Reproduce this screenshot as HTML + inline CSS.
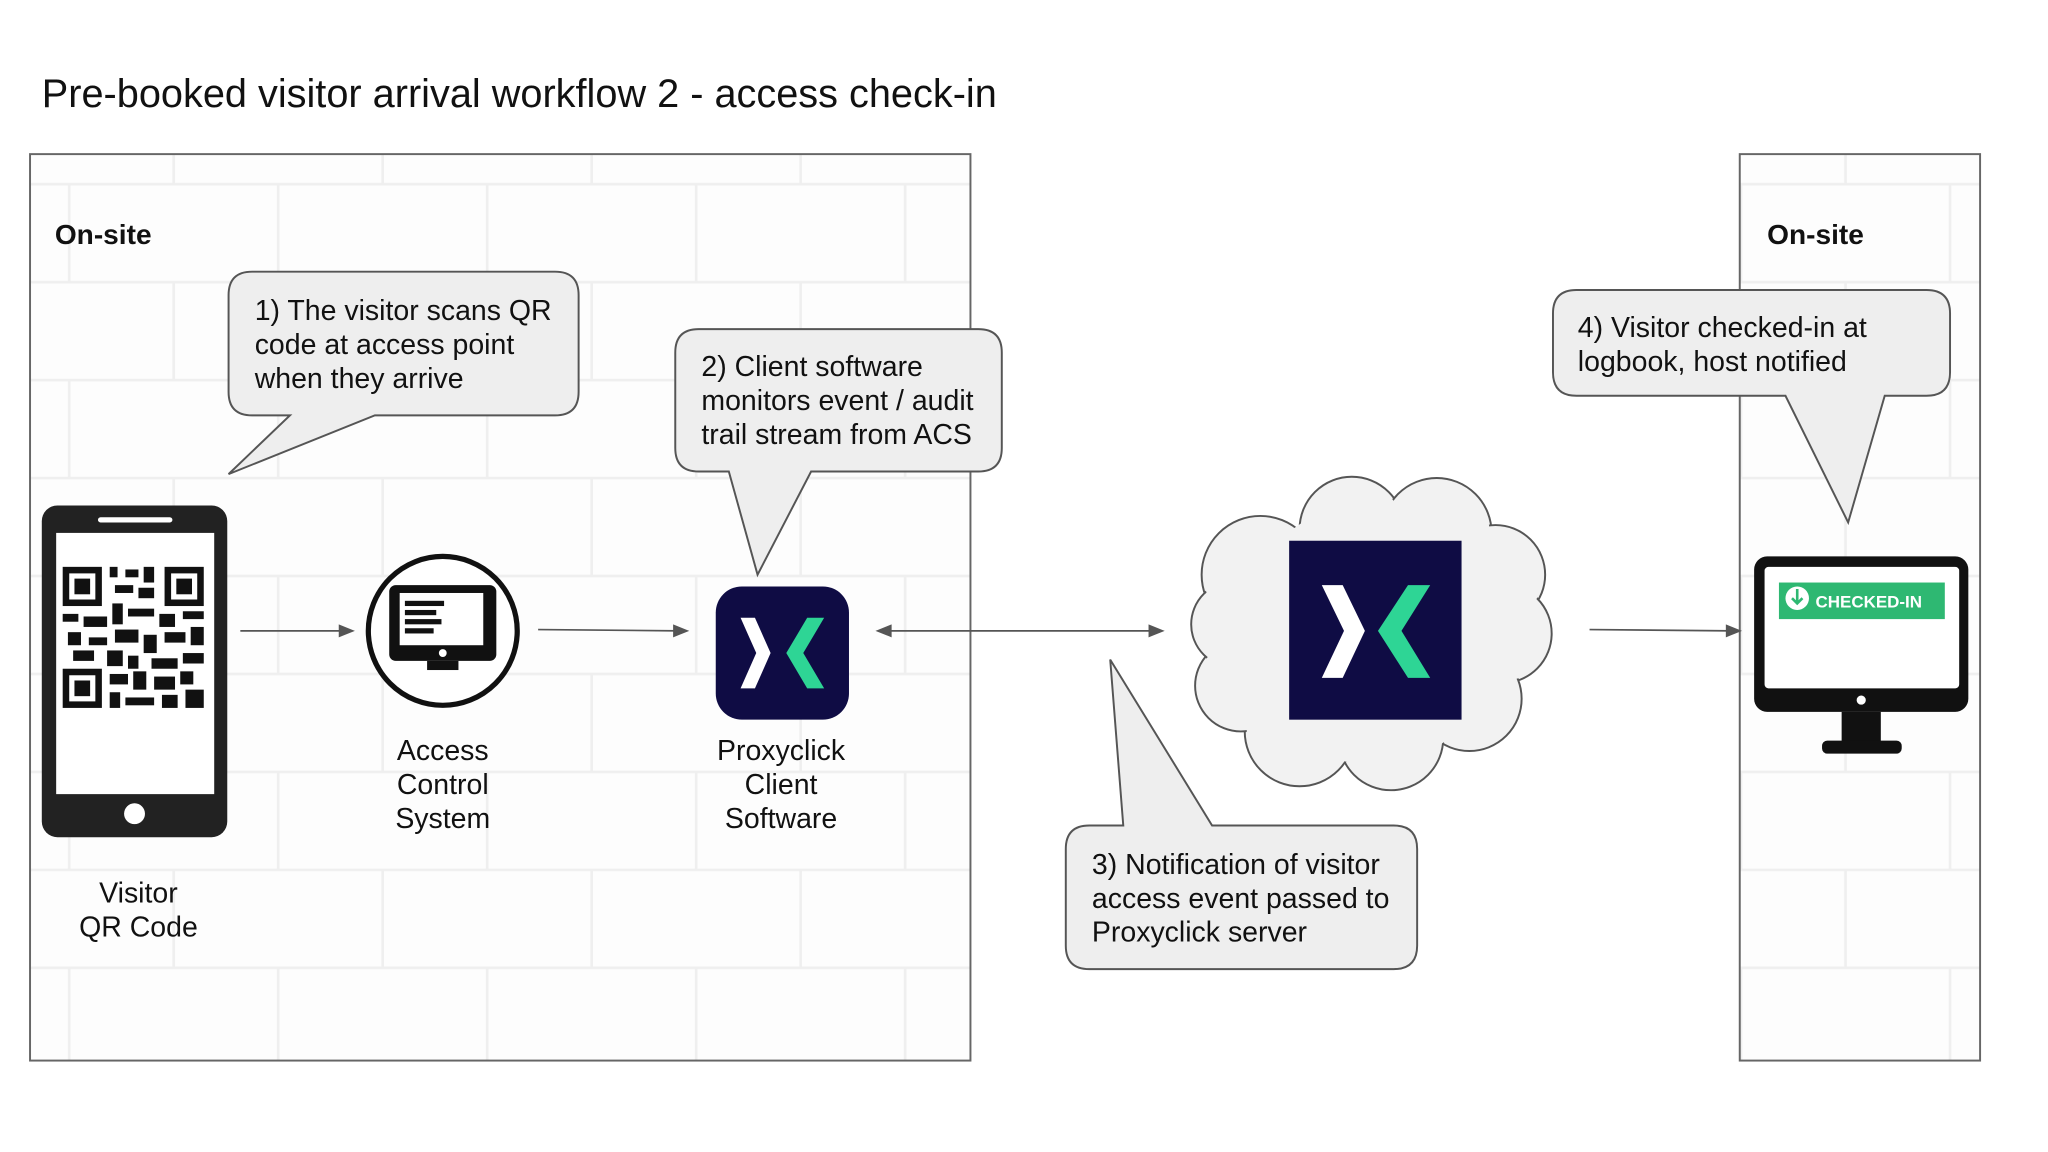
<!DOCTYPE html>
<html><head><meta charset="utf-8"><style>
html,body{margin:0;padding:0;background:#fff;}
svg{display:block;}
text{font-family:"Liberation Sans",sans-serif;fill:#111;}
</style></head><body>
<svg width="2048" height="1152" viewBox="0 0 1568 882" preserveAspectRatio="none" xmlns="http://www.w3.org/2000/svg">
<defs>
<pattern id="brick" x="23" y="118" width="320" height="150" patternUnits="userSpaceOnUse">
<rect width="320" height="150" fill="#fdfdfd"/>
<g stroke="#efefef" stroke-width="2" fill="none">
<line x1="0" y1="23" x2="320" y2="23"/><line x1="0" y1="98" x2="320" y2="98"/>
<line x1="30" y1="23" x2="30" y2="98"/><line x1="190" y1="23" x2="190" y2="98"/>
<line x1="110" y1="98" x2="110" y2="173"/><line x1="270" y1="98" x2="270" y2="173"/>
<line x1="110" y1="0" x2="110" y2="23"/><line x1="270" y1="0" x2="270" y2="23"/>
</g>
</pattern>
</defs>
<rect width="1568" height="882" fill="#fff"/>
<text x="32" y="82" font-size="30.4">Pre-booked visitor arrival workflow 2 - access check-in</text>

<rect x="23" y="118" width="720" height="694" fill="url(#brick)" stroke="#666" stroke-width="1.5"/>
<rect x="1332" y="118" width="184" height="694" fill="url(#brick)" stroke="#666" stroke-width="1.5"/>
<text x="42" y="187" font-size="21.5" font-weight="bold">On-site</text>
<text x="1353" y="187" font-size="21.5" font-weight="bold">On-site</text>

<!-- arrows -->
<g stroke="#555" stroke-width="1.3" fill="#555">
<line x1="184" y1="483" x2="264" y2="483"/><polygon points="270,483 260,479 260,487"/>
<line x1="412" y1="482" x2="520" y2="483"/><polygon points="526,483 516,479 516,487"/>
<line x1="678" y1="483" x2="884" y2="483"/><polygon points="672,483 682,479 682,487"/><polygon points="890,483 880,479 880,487"/>
<line x1="1217" y1="482" x2="1326" y2="483"/><polygon points="1332,483 1322,479 1322,487"/>
</g>

<!-- phone -->
<rect x="32" y="387" width="142" height="254" rx="12" fill="#222"/>
<rect x="43" y="408" width="121" height="200" fill="#fff"/>
<rect x="75" y="396" width="57" height="4" rx="2" fill="#fff"/>
<circle cx="103" cy="623" r="8" fill="#fff"/>
<g fill="#111">
<rect x="48" y="434" width="30" height="30"/><rect x="53" y="439" width="20" height="20" fill="#fff"/><rect x="57" y="443" width="12" height="12"/>
<rect x="126" y="434" width="30" height="30"/><rect x="131" y="439" width="20" height="20" fill="#fff"/><rect x="135" y="443" width="12" height="12"/>
<rect x="48" y="512" width="30" height="30"/><rect x="53" y="517" width="20" height="20" fill="#fff"/><rect x="57" y="521" width="12" height="12"/>
<rect x="84" y="434" width="6" height="8"/><rect x="96" y="436" width="10" height="6"/><rect x="110" y="434" width="8" height="12"/><rect x="88" y="448" width="14" height="6"/><rect x="106" y="450" width="12" height="8"/>
<rect x="48" y="470" width="12" height="6"/><rect x="64" y="472" width="18" height="8"/><rect x="86" y="462" width="8" height="16"/><rect x="98" y="466" width="20" height="6"/><rect x="122" y="470" width="12" height="10"/><rect x="140" y="468" width="16" height="6"/>
<rect x="52" y="484" width="10" height="10"/><rect x="68" y="488" width="14" height="6"/><rect x="88" y="482" width="18" height="10"/><rect x="110" y="486" width="10" height="14"/><rect x="126" y="484" width="16" height="8"/><rect x="146" y="480" width="10" height="14"/>
<rect x="56" y="498" width="16" height="8"/><rect x="82" y="498" width="12" height="12"/><rect x="98" y="502" width="8" height="10"/><rect x="116" y="504" width="20" height="8"/><rect x="140" y="500" width="16" height="8"/>
<rect x="84" y="516" width="14" height="8"/><rect x="102" y="514" width="10" height="14"/><rect x="118" y="518" width="16" height="10"/><rect x="138" y="514" width="10" height="10"/>
<rect x="84" y="530" width="8" height="12"/><rect x="96" y="534" width="22" height="6"/><rect x="124" y="532" width="12" height="10"/><rect x="142" y="528" width="14" height="14"/>
</g>
<g font-size="21.8" text-anchor="middle">
<text x="106" y="691">Visitor</text>
<text x="106" y="717">QR Code</text>
</g>

<!-- ACS -->
<circle cx="339" cy="483" r="57" fill="#fff" stroke="#111" stroke-width="4"/>
<rect x="298" y="448" width="82" height="58" rx="5" fill="#111"/>
<rect x="306" y="454" width="64" height="40" fill="#fff"/>
<rect x="310" y="460" width="30" height="4" fill="#111"/><rect x="310" y="467" width="24" height="4" fill="#111"/><rect x="310" y="474" width="28" height="4" fill="#111"/><rect x="310" y="481" width="22" height="4" fill="#111"/>
<circle cx="339" cy="500" r="3" fill="#fff"/>
<rect x="327" y="506" width="24" height="7" fill="#111"/>
<g font-size="21.8" text-anchor="middle">
<text x="339" y="582">Access</text>
<text x="339" y="608">Control</text>
<text x="339" y="634">System</text>
</g>

<!-- Proxyclick client -->
<rect x="548" y="449" width="102" height="102" rx="20" fill="#0f0c44"/>
<polygon points="567,473 578,473 590,500 578,527 567,527 579,500" fill="#fff"/>
<polygon points="631,473 618,473 602,500 618,527 631,527 615,500" fill="#2ed595"/>
<g font-size="21.8" text-anchor="middle">
<text x="598" y="582">Proxyclick</text>
<text x="598" y="608">Client</text>
<text x="598" y="634">Software</text>
</g>

<!-- cloud -->
<g fill="#f2f2f2" stroke="#555" stroke-width="1.5">
<circle cx="965" cy="440" r="45"/><circle cx="1035" cy="405" r="40"/><circle cx="1100" cy="408" r="42"/><circle cx="1145" cy="440" r="38"/><circle cx="1150" cy="485" r="38"/><circle cx="1125" cy="535" r="40"/><circle cx="1065" cy="565" r="40"/><circle cx="995" cy="560" r="42"/><circle cx="950" cy="525" r="35"/><circle cx="945" cy="478" r="33"/>
</g>
<g fill="#f2f2f2">
<circle cx="965" cy="440" r="43.5"/><circle cx="1035" cy="405" r="38.5"/><circle cx="1100" cy="408" r="40.5"/><circle cx="1145" cy="440" r="36.5"/><circle cx="1150" cy="485" r="36.5"/><circle cx="1125" cy="535" r="38.5"/><circle cx="1065" cy="565" r="38.5"/><circle cx="995" cy="560" r="40.5"/><circle cx="950" cy="525" r="33.5"/><circle cx="945" cy="478" r="31.5"/>
<circle cx="1050" cy="485" r="100"/>
</g>
<rect x="987" y="414" width="132" height="137" fill="#0f0c44"/>
<polygon points="1012,448 1028,448 1045,483 1028,519 1012,519 1029,483" fill="#fff"/>
<polygon points="1095,448 1078,448 1055,483 1078,519 1095,519 1073,483" fill="#2ed595"/>

<!-- monitor -->
<rect x="1343" y="426" width="164" height="119" rx="10" fill="#111"/>
<rect x="1351" y="434" width="149" height="93" rx="3" fill="#fff"/>
<circle cx="1425" cy="536" r="3.5" fill="#fff"/>
<rect x="1410" y="545" width="30" height="24" fill="#111"/>
<rect x="1395" y="567" width="61" height="10" rx="4" fill="#111"/>
<rect x="1362" y="446" width="127" height="28" fill="#2eb872"/>
<circle cx="1376" cy="458" r="9" fill="#fff"/>
<path d="M1376,451 V462 M1372,458 L1376,462 L1380,458" stroke="#2eb872" stroke-width="2" fill="none"/>
<text x="1390" y="465" font-size="13" font-weight="bold" style="fill:#fff">CHECKED-IN</text>

<!-- callouts -->
<g fill="#eeeeee" stroke="#555" stroke-width="1.5">
<path d="M193,208 H425 Q443,208 443,226 V300 Q443,318 425,318 H287 L175,363 L222,318 H193 Q175,318 175,300 V226 Q175,208 193,208 Z"/>
<path d="M535,252 H749 Q767,252 767,270 V343 Q767,361 749,361 H621 L580,440 L558,361 H535 Q517,361 517,343 V270 Q517,252 535,252 Z"/>
<path d="M834,632 H860 L850,505 L928,632 H1067 Q1085,632 1085,650 V724 Q1085,742 1067,742 H834 Q816,742 816,724 V650 Q816,632 834,632 Z"/>
<path d="M1207,222 H1475 Q1493,222 1493,240 V285 Q1493,303 1475,303 H1443 L1415,400 L1367,303 H1207 Q1189,303 1189,285 V240 Q1189,222 1207,222 Z"/>
</g>
<g font-size="21.8">
<text x="195" y="245">1) The visitor scans QR</text>
<text x="195" y="271">code at access point</text>
<text x="195" y="297">when they arrive</text>
<text x="537" y="288">2) Client software</text>
<text x="537" y="314">monitors event / audit</text>
<text x="537" y="340">trail stream from ACS</text>
<text x="836" y="669">3) Notification of visitor</text>
<text x="836" y="695">access event passed to</text>
<text x="836" y="721">Proxyclick server</text>
<text x="1208" y="258">4) Visitor checked-in at</text>
<text x="1208" y="284">logbook, host notified</text>
</g>
</svg>
</body></html>
